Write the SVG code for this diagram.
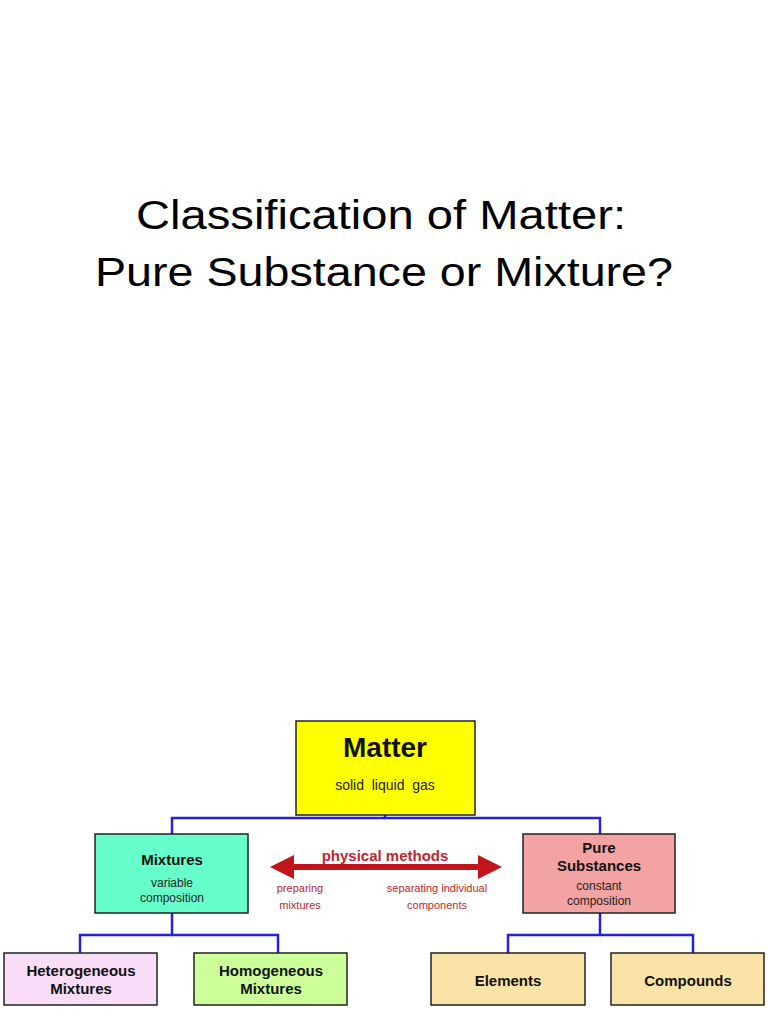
<svg xmlns="http://www.w3.org/2000/svg" width="768" height="1024" viewBox="0 0 768 1024">
<style>
.t{font-family:"Liberation Sans",Arial,sans-serif;text-anchor:middle}
.b{font-weight:bold;font-size:15px;fill:#111}
.s{font-size:12px;fill:#222}
.r{font-size:11px;fill:#c0262d}
.bx{stroke:#222;stroke-width:1.5}
.ln{stroke:#2222dd;stroke-width:2.5;fill:none}
</style>
<defs>
<marker id="ah" viewBox="0 0 10 10" refX="5" refY="5" markerWidth="4" markerHeight="4" orient="auto-start-reverse"><path d="M0,0 L10,5 L0,10 z" fill="#c0151d"/></marker>
</defs>
<rect width="768" height="1024" fill="#fff"/>
<g id="title"><text class="t" x="381" y="229" font-size="40" fill="#000" textLength="490" lengthAdjust="spacingAndGlyphs">Classification of Matter:</text><text class="t" x="384" y="286" font-size="40" fill="#000" textLength="578" lengthAdjust="spacingAndGlyphs">Pure Substance or Mixture?</text></g>
<g id="connectors">
<path class="ln" d="M385 815V818M172 834V818H600V834"/>
<path class="ln" d="M172 913V935M80 953V935H278V953"/>
<path class="ln" d="M600 913V935M508 953V935H693V953"/>
<line x1="282" y1="867" x2="490" y2="867" stroke="#c0151d" stroke-width="6" marker-start="url(#ah)" marker-end="url(#ah)"/>
<text class="t" x="385" y="861" font-size="15" font-weight="bold" fill="#c0262d">physical methods</text>
<text class="t r" x="300" y="892">preparing</text><text class="t r" x="300" y="909">mixtures</text>
<text class="t r" x="437" y="892">separating individual</text><text class="t r" x="437" y="909">components</text>
</g>
<g id="matter"><rect class="bx" x="296" y="721" width="179" height="94" fill="#ffff00"/><text class="t" x="385" y="757" font-size="28" font-weight="bold" fill="#111">Matter</text><text class="t" x="385" y="790" font-size="14" fill="#222" xml:space="preserve">solid  liquid  gas</text></g>
<g id="mixtures"><rect class="bx" x="95" y="834" width="153" height="79" fill="#66ffcc"/><text class="t b" x="172" y="865">Mixtures</text><text class="t s" x="172" y="887">variable</text><text class="t s" x="172" y="902">composition</text></g>
<g id="pure"><rect class="bx" x="523" y="834" width="152" height="79" fill="#f4a3a3"/><text class="t b" x="599" y="853">Pure</text><text class="t b" x="599" y="871">Substances</text><text class="t s" x="599" y="890">constant</text><text class="t s" x="599" y="905">composition</text></g>
<g id="hetero"><rect class="bx" x="4" y="953" width="153" height="52" fill="#f8dcf8"/><text class="t b" x="81" y="976">Heterogeneous</text><text class="t b" x="81" y="994">Mixtures</text></g>
<g id="homo"><rect class="bx" x="194" y="953" width="153" height="52" fill="#ccff99"/><text class="t b" x="271" y="976">Homogeneous</text><text class="t b" x="271" y="994">Mixtures</text></g>
<g id="elements"><rect class="bx" x="431" y="953" width="154" height="52" fill="#fbe3a8"/><text class="t b" x="508" y="986">Elements</text></g>
<g id="compounds"><rect class="bx" x="611" y="953" width="153" height="52" fill="#fbe3a8"/><text class="t b" x="688" y="986">Compounds</text></g>
</svg>
